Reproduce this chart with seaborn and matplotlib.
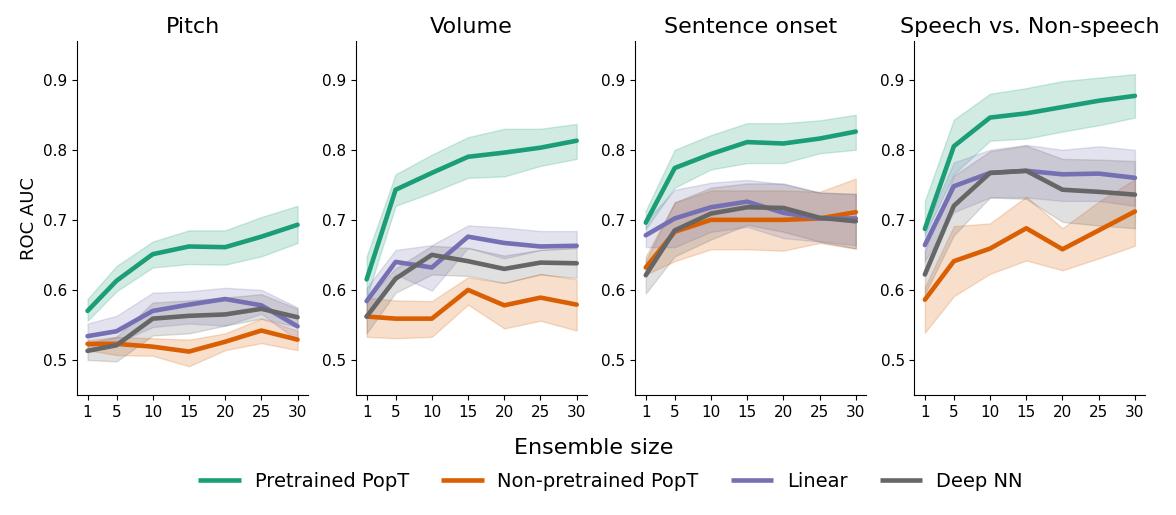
import numpy as np
import pandas as pd
import matplotlib
matplotlib.use("Agg")
import matplotlib.pyplot as plt
import seaborn as sns

sizes = [1, 5, 10, 15, 20, 25, 30]
tasks = ["Pitch", "Volume", "Sentence onset", "Speech vs. Non-speech"]
models = ["Pretrained PopT", "Non-pretrained PopT", "Linear", "Deep NN"]
colors = ["#1b9e77", "#d95f02", "#7570b3", "#666666"]

# mean ROC AUC per task, per model
pitch_mean = {
    "Pretrained PopT":     [0.570, 0.613, 0.651, 0.662, 0.661, 0.676, 0.693],
    "Non-pretrained PopT": [0.523, 0.523, 0.519, 0.512, 0.526, 0.542, 0.529],
    "Linear":              [0.534, 0.541, 0.570, 0.579, 0.587, 0.578, 0.548],
    "Deep NN":             [0.513, 0.521, 0.559, 0.563, 0.565, 0.573, 0.561],
}
pitch_lo = {
    "Pretrained PopT":     [0.556, 0.598, 0.632, 0.637, 0.636, 0.648, 0.667],
    "Non-pretrained PopT": [0.514, 0.507, 0.506, 0.491, 0.514, 0.524, 0.514],
    "Linear":              [0.519, 0.524, 0.547, 0.552, 0.549, 0.566, 0.528],
    "Deep NN":             [0.500, 0.498, 0.535, 0.538, 0.549, 0.559, 0.547],
}
pitch_hi = {
    "Pretrained PopT":     [0.587, 0.634, 0.669, 0.685, 0.685, 0.704, 0.720],
    "Non-pretrained PopT": [0.528, 0.533, 0.531, 0.529, 0.538, 0.559, 0.542],
    "Linear":              [0.552, 0.563, 0.596, 0.598, 0.603, 0.600, 0.575],
    "Deep NN":             [0.524, 0.533, 0.582, 0.585, 0.589, 0.594, 0.573],
}

volume_mean = {
    "Pretrained PopT":     [0.615, 0.743, 0.767, 0.790, 0.796, 0.803, 0.813],
    "Non-pretrained PopT": [0.562, 0.559, 0.559, 0.600, 0.578, 0.589, 0.579],
    "Linear":              [0.584, 0.640, 0.632, 0.676, 0.667, 0.662, 0.663],
    "Deep NN":             [0.562, 0.616, 0.650, 0.641, 0.630, 0.639, 0.638],
}
volume_lo = {
    "Pretrained PopT":     [0.589, 0.720, 0.739, 0.760, 0.762, 0.777, 0.787],
    "Non-pretrained PopT": [0.533, 0.531, 0.533, 0.579, 0.545, 0.556, 0.542],
    "Linear":              [0.566, 0.622, 0.599, 0.660, 0.645, 0.657, 0.660],
    "Deep NN":             [0.538, 0.596, 0.622, 0.620, 0.610, 0.622, 0.617],
}
volume_hi = {
    "Pretrained PopT":     [0.648, 0.765, 0.793, 0.818, 0.830, 0.830, 0.837],
    "Non-pretrained PopT": [0.589, 0.585, 0.584, 0.618, 0.610, 0.623, 0.615],
    "Linear":              [0.603, 0.657, 0.664, 0.692, 0.689, 0.684, 0.684],
    "Deep NN":             [0.585, 0.631, 0.663, 0.660, 0.649, 0.657, 0.660],
}

onset_mean = {
    "Pretrained PopT":     [0.696, 0.774, 0.794, 0.811, 0.809, 0.816, 0.826],
    "Non-pretrained PopT": [0.632, 0.683, 0.700, 0.700, 0.700, 0.702, 0.711],
    "Linear":              [0.678, 0.702, 0.718, 0.726, 0.710, 0.702, 0.702],
    "Deep NN":             [0.621, 0.685, 0.709, 0.718, 0.717, 0.703, 0.698],
}
onset_lo = {
    "Pretrained PopT":     [0.687, 0.746, 0.772, 0.781, 0.781, 0.795, 0.800],
    "Non-pretrained PopT": [0.622, 0.641, 0.658, 0.658, 0.656, 0.667, 0.659],
    "Linear":              [0.661, 0.661, 0.683, 0.690, 0.674, 0.669, 0.664],
    "Deep NN":             [0.595, 0.648, 0.672, 0.693, 0.683, 0.669, 0.659],
}
onset_hi = {
    "Pretrained PopT":     [0.713, 0.800, 0.821, 0.838, 0.838, 0.842, 0.850],
    "Non-pretrained PopT": [0.648, 0.725, 0.742, 0.742, 0.742, 0.740, 0.759],
    "Linear":              [0.698, 0.743, 0.753, 0.757, 0.751, 0.739, 0.737],
    "Deep NN":             [0.642, 0.725, 0.746, 0.752, 0.752, 0.739, 0.737],
}

speech_mean = {
    "Pretrained PopT":     [0.687, 0.805, 0.846, 0.852, 0.861, 0.870, 0.877],
    "Non-pretrained PopT": [0.586, 0.641, 0.659, 0.688, 0.658, 0.685, 0.712],
    "Linear":              [0.664, 0.748, 0.767, 0.770, 0.765, 0.766, 0.760],
    "Deep NN":             [0.622, 0.720, 0.767, 0.770, 0.743, 0.740, 0.736],
}
speech_lo = {
    "Pretrained PopT":     [0.678, 0.765, 0.813, 0.816, 0.826, 0.835, 0.846],
    "Non-pretrained PopT": [0.539, 0.591, 0.623, 0.642, 0.628, 0.645, 0.663],
    "Linear":              [0.641, 0.711, 0.732, 0.732, 0.727, 0.727, 0.720],
    "Deep NN":             [0.594, 0.678, 0.732, 0.730, 0.697, 0.692, 0.688],
}
speech_hi = {
    "Pretrained PopT":     [0.727, 0.843, 0.880, 0.888, 0.898, 0.903, 0.908],
    "Non-pretrained PopT": [0.604, 0.691, 0.695, 0.733, 0.688, 0.726, 0.758],
    "Linear":              [0.688, 0.782, 0.800, 0.807, 0.800, 0.805, 0.800],
    "Deep NN":             [0.655, 0.763, 0.798, 0.806, 0.787, 0.786, 0.784],
}

means = [pitch_mean, volume_mean, onset_mean, speech_mean]
lows = [pitch_lo, volume_lo, onset_lo, speech_lo]
highs = [pitch_hi, volume_hi, onset_hi, speech_hi]

sns.set_style("ticks")
plt.rcParams['font.family'] = ['DejaVu Sans']
for k in ["text.color", "axes.labelcolor", "xtick.color", "ytick.color", "axes.edgecolor"]:
    plt.rcParams[k] = "black"

fig, axes = plt.subplots(1, 4, figsize=(11.76, 5.15), dpi=100)
fig.subplots_adjust(left=0.0655, right=0.974, top=0.92, bottom=0.233, wspace=0.208)

palette = dict(zip(models, colors))

for i, ax in enumerate(axes):
    rows = []
    for m in models:
        for s, v in zip(sizes, means[i][m]):
            rows.append({"size": s, "model": m, "auc": v})
    df = pd.DataFrame(rows)
    for m in models:
        ax.fill_between(sizes, lows[i][m], highs[i][m], color=palette[m], alpha=0.2, linewidth=1)
    sns.lineplot(data=df, x="size", y="auc", hue="model", hue_order=models,
                 palette=palette, linewidth=3.3, ax=ax, legend=False)
    ax.set_title(tasks[i], fontsize=16)
    ax.set_ylim(0.45, 0.955)
    ax.set_yticks([0.5, 0.6, 0.7, 0.8, 0.9])
    ax.set_xticks(sizes)
    ax.tick_params(labelsize=11)
    ax.set_xlabel("")
    if i == 0:
        ax.set_ylabel("ROC AUC", fontsize=13)
    else:
        ax.set_ylabel("")
    sns.despine(ax=ax)

fig.text(0.505, 0.13, "Ensemble size", ha="center", va="center", fontsize=16)

handles = [plt.Line2D([0], [0], color=c, lw=3.3, solid_capstyle="butt") for c in colors]
fig.legend(handles, models, loc="center", bbox_to_anchor=(0.519, 0.066), ncol=4,
           frameon=False, fontsize=14, handlelength=2.2, handletextpad=0.7,
           columnspacing=1.65)

plt.savefig("out.png", dpi=100)
